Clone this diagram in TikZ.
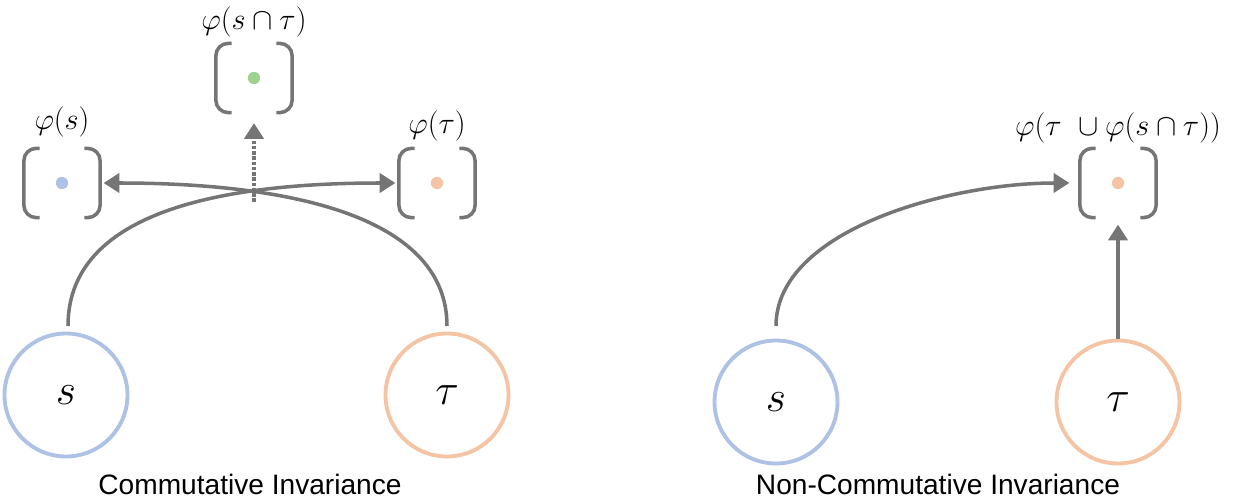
\documentclass[tikz,border=0pt]{standalone}
\usepackage{fontspec}
\setsansfont{Liberation Sans}
\usetikzlibrary{arrows.meta}
\definecolor{cblue}{HTML}{AEC2E6}
\definecolor{corange}{HTML}{F4C4A4}
\definecolor{cgreen}{HTML}{9FD18F}
\definecolor{cgray}{HTML}{757575}
\tikzset{
  circ/.style={circle,line width=2.2pt,minimum size=70pt,inner sep=0pt},
  lab/.style={font=\fontsize{18}{20}\selectfont},
  captext/.style={font=\sffamily\fontsize{16}{17}\selectfont},
  conn/.style={draw=cgray,line width=2pt,-{Triangle[length=9pt,width=11pt]}},
  box/.style={minimum width=43pt,minimum height=39pt,inner sep=0pt},
}
\newcommand{\brk}[1]{%
  \draw[cgray,line width=2pt,rounded corners=7pt]
    ([xshift=9pt]#1.north west) -- (#1.north west) -- (#1.south west) -- ([xshift=9pt]#1.south west);
  \draw[cgray,line width=2pt,rounded corners=7pt]
    ([xshift=-9pt]#1.north east) -- (#1.north east) -- (#1.south east) -- ([xshift=-9pt]#1.south east);}
\begin{document}
\begin{tikzpicture}[x=0.02cm,y=-0.02cm]
\useasboundingbox (0,0) rectangle (1242,500);
% left
\node[circ,draw=cblue] (s1) at (66,395) {\fontsize{24}{28}\selectfont$s$};
\node[circ,draw=corange] (t1) at (447,395) {\fontsize{24}{28}\selectfont$\tau$};
\node[box] (bs) at (62,183) {};
\node[box] (bt) at (437,183) {};
\node[box] (bst) at (254,78) {};
\brk{bs}\brk{bt}\brk{bst}
\fill[cblue] (bs) circle (3.5pt);
\fill[corange] (bt) circle (3.5pt);
\fill[cgreen] (bst) circle (3.5pt);
\node[lab] at (62,122) {$\varphi(s)$};
\node[lab] at (437,126) {$\varphi(\tau)$};
\node[lab] at (254,22) {$\varphi(s\cap\tau)$};
\coordinate (a1) at (68,326);
\coordinate (a2) at (447,326);
\coordinate (dm) at (254,202);
\draw[conn] (a1) .. controls (68,220) and (200,183) .. ([xshift=-2pt]bt.west);
\draw[conn] (a2) .. controls (447,220) and (300,183) .. ([xshift=2pt]bs.east);
\draw[conn,densely dotted] (dm) -- ([yshift=-6pt]bst.south);
\node[captext] at (250,484) {Commutative Invariance};
% right
\node[circ,draw=cblue] (s2) at (776,402) {\fontsize{24}{28}\selectfont$s$};
\node[circ,draw=corange] (t2) at (1118,402) {\fontsize{24}{28}\selectfont$\tau$};
\node[box] (br) at (1118,183) {};
\brk{br}
\fill[corange] (br) circle (3.5pt);
\node[lab] at (1118,128) {$\varphi(\tau\ \cup\varphi(s\cap\tau))$};
\coordinate (b1) at (776,326);
\draw[conn] (b1) .. controls (776,230) and (950,183) .. ([xshift=-6pt]br.west);
\draw[conn] (t2.north) -- ([yshift=-4pt]br.south);
\node[captext] at (938,484) {Non-Commutative Invariance};
\end{tikzpicture}
\end{document}
